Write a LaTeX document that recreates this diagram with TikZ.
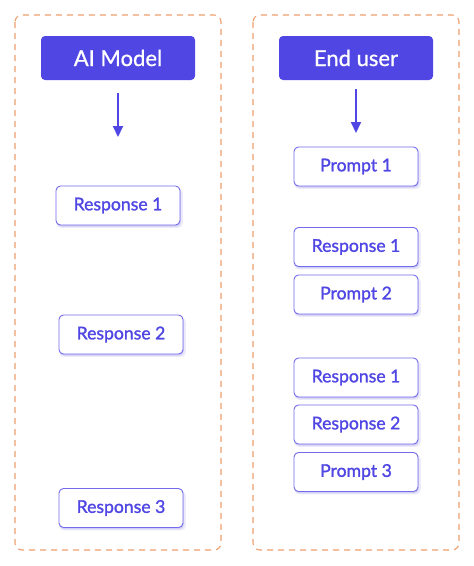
\documentclass[tikz,border=0pt]{standalone}
\usepackage{fontspec}
\setmainfont{Lato}
\newfontfamily\itemfont{Lato}[FakeBold=1.4]
\newfontfamily\headfont{Lato}[FakeBold=0.8]
\usetikzlibrary{shadows,arrows.meta}
\definecolor{indigo}{RGB}{80,70,228}
\definecolor{frameorange}{RGB}{238,160,110}
\definecolor{shadowc}{RGB}{160,155,235}
\tikzset{
  frame/.style={draw=frameorange, line width=1.1pt, dash pattern=on 6pt off 5pt, rounded corners=7pt},
  headbox/.style={fill=indigo, rounded corners=4pt, text=white, font=\headfont\fontsize{22}{25}\selectfont, minimum width=154pt, minimum height=44pt, inner sep=0pt},
  itembox/.style={draw=indigo!80, line width=0.9pt, fill=white, rounded corners=4.5pt, text=indigo, font=\itemfont\fontsize{17.6}{20}\selectfont, minimum width=124pt, minimum height=39pt, inner sep=0pt,
    drop shadow={shadow xshift=1.5pt, shadow yshift=-2.5pt, fill=shadowc, opacity=0.18, shadow scale=1.02},
    drop shadow={shadow xshift=1pt, shadow yshift=-2pt, fill=shadowc, opacity=0.2, shadow scale=1.0},
    drop shadow={shadow xshift=0.5pt, shadow yshift=-1.2pt, fill=shadowc, opacity=0.25, shadow scale=1.0}},
  flow/.style={draw=indigo, line width=2pt, -{Triangle[length=11pt,width=10pt]}}
}
\begin{document}
\begin{tikzpicture}[x=1pt,y=-1pt]
\useasboundingbox (0,0) rectangle (474,566);
\fill[white] (0,0) rectangle (474,566);
% frames
\draw[frame] (15,15) rectangle (221,550);
\draw[frame] (253,15) rectangle (459,550);
% left column
\node[headbox] (ai) at (118,58) {AI Model};
\coordinate (aiA) at (118,93);
\coordinate (aiB) at (118,137);
\draw[flow] (aiA) -- (aiB);
\node[itembox] (lr1) at (118,205.5) {Response 1};
\node[itembox] (lr2) at (121,334.5) {Response 2};
\node[itembox] (lr3) at (121,508) {Response 3};
% right column
\node[headbox] (eu) at (356,58) {End user};
\coordinate (euA) at (356,89);
\coordinate (euB) at (356,133);
\draw[flow] (euA) -- (euB);
\node[itembox] (p1) at (356,166.5) {Prompt 1};
\node[itembox] (r1a) at (356,247) {Response 1};
\node[itembox] (p2) at (356,294.5) {Prompt 2};
\node[itembox] (r1b) at (356,377.5) {Response 1};
\node[itembox] (r2b) at (356,424.5) {Response 2};
\node[itembox] (p3) at (356,472) {Prompt 3};
\end{tikzpicture}
\end{document}
